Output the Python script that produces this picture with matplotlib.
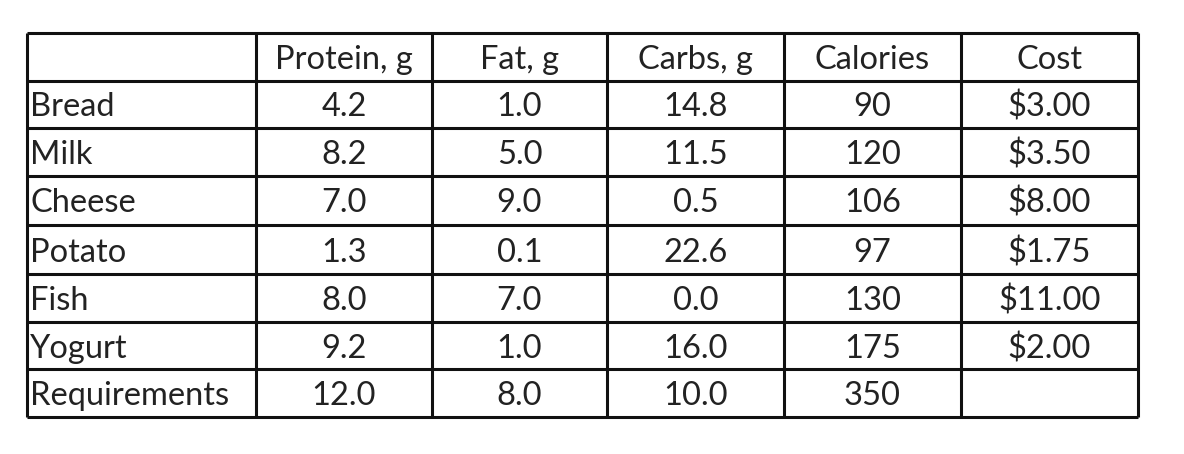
import matplotlib.pyplot as plt

columns = ['Protein, g', 'Fat, g', 'Carbs, g', 'Calories', 'Cost']
foods = ['Bread', 'Milk', 'Cheese', 'Potato', 'Fish', 'Yogurt', 'Requirements']
protein = ['4.2', '8.2', '7.0', '1.3', '8.0', '9.2', '12.0']
fat = ['1.0', '5.0', '9.0', '0.1', '7.0', '1.0', '8.0']
carbs = ['14.8', '11.5', '0.5', '22.6', '0.0', '16.0', '10.0']
calories = ['90', '120', '106', '97', '130', '175', '350']
cost = ['$3.00', '$3.50', '$8.00', '$1.75', '$11.00', '$2.00', '']

# layout in pixels
col_edges = [27, 256, 432, 607, 784, 961, 1138]
row_edges = [33, 81, 128, 176, 225, 274, 322, 369, 417]

fig = plt.figure(figsize=(11.84, 4.54), dpi=100)
ax = fig.add_axes([0, 0, 1, 1])
ax.set_xlim(0, 1184)
ax.set_ylim(454, 0)
ax.axis('off')

ax.hlines(row_edges, col_edges[0], col_edges[-1], color='#111111', lw=2.2)
ax.vlines(col_edges, row_edges[0], row_edges[-1], color='#111111', lw=2.2)

font = dict(family=['Lato', 'DejaVu Sans'], fontsize=23.5, color='#222222')

def mid(edges, i):
    return (edges[i] + edges[i + 1]) / 2

for j, name in enumerate(columns):
    ax.text(mid(col_edges, j + 1), mid(row_edges, 0) + 3, name, ha='center', va='center', **font)

values = [protein, fat, carbs, calories, cost]
for i, food in enumerate(foods):
    y = mid(row_edges, i + 1) + 3
    ax.text(col_edges[0] + 3, y, food, ha='left', va='center', **font)
    for j, col in enumerate(values):
        ax.text(mid(col_edges, j + 1), y, col[i], ha='center', va='center', **font)

fig.savefig('out.png', dpi=100)
